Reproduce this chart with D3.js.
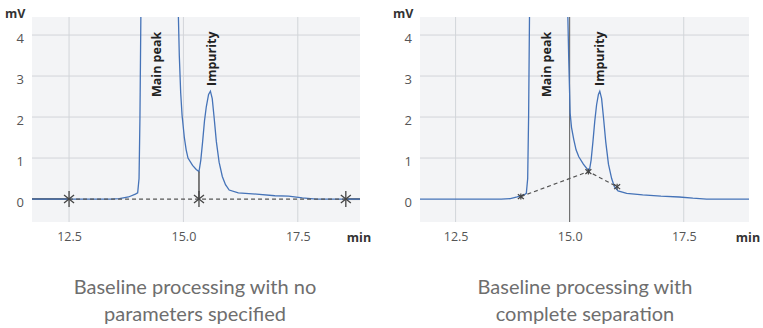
<!DOCTYPE html>
<html><head><meta charset="utf-8">
<script src="https://cdn.jsdelivr.net/npm/d3@7"></script>
<style>body{margin:0;background:#fff}svg{display:block}</style>
</head><body>
<script>
// ---- data ----
const xTicks = [12.5, 15.0, 17.5];
const yTicks = [0, 1, 2, 3, 4];
const peakLabels = ["Main peak", "Impurity"];
const leftLabelTimes = [14.49, 15.7];
const rightLabelTimes = [14.57, 15.74];
const captions = [["Baseline processing with no", "parameters specified"], ["Baseline processing with", "complete separation"]];

const leftTime   = [11.69, 13.0, 13.4, 13.6, 13.8, 13.95, 14.0, 14.03, 14.05, 14.07, 14.1, 14.4, 14.8, 14.89, 14.91, 14.94, 14.97, 15.02, 15.06, 15.1, 15.2, 15.28, 15.34, 15.38, 15.42, 15.46, 15.5, 15.55, 15.59, 15.63, 15.67, 15.72, 15.78, 15.85, 15.92, 16.0, 16.2, 16.6, 17.0, 17.3, 17.6, 17.9, 18.88];
const leftSignal = [0, 0, 0.0, 0.01, 0.05, 0.12, 0.15, 0.5, 2.0, 4.5, 9, 40, 9, 4.45, 3.5, 2.6, 2.05, 1.5, 1.2, 1.0, 0.82, 0.72, 0.67, 0.95, 1.4, 1.9, 2.25, 2.55, 2.63, 2.45, 2.0, 1.4, 0.9, 0.55, 0.35, 0.22, 0.15, 0.12, 0.08, 0.07, 0.03, 0.0, 0];
const leftMarks = [12.5, 15.34, 18.55];
const leftDrop = [15.34, 0.67];

const rightTime   = [11.69, 13.0, 13.5, 13.7, 13.85, 14.0, 14.05, 14.08, 14.1, 14.12, 14.15, 14.45, 14.85, 14.96, 14.98, 15.01, 15.04, 15.09, 15.14, 15.2, 15.3, 15.38, 15.43, 15.47, 15.51, 15.55, 15.59, 15.63, 15.66, 15.7, 15.74, 15.79, 15.85, 15.92, 15.98, 16.06, 16.25, 16.6, 17.0, 17.4, 17.7, 18.0, 18.93];
const rightSignal = [0, 0, 0, 0.01, 0.05, 0.1, 0.14, 0.5, 2.0, 4.5, 9, 40, 9, 4.45, 3.4, 2.1, 1.75, 1.45, 1.2, 1.03, 0.85, 0.74, 0.68, 0.95, 1.4, 1.9, 2.3, 2.55, 2.63, 2.45, 2.0, 1.4, 0.85, 0.5, 0.3, 0.2, 0.14, 0.1, 0.07, 0.05, 0.02, 0.0, 0];
const rightBaseT = [13.93, 15.41, 16.04];
const rightBaseV = [0.06, 0.67, 0.3];

// ---- layout ----
const W = 763, H = 328;
const svg = d3.select("body").append("svg").attr("width", W).attr("height", H)
  .style("font-family", "'Open Sans', sans-serif");

const panels = [
  {x0: 32, x1: 360, dom: [11.69, 18.86], time: leftTime, sig: leftSignal, lab: leftLabelTimes, cx: 195},
  {x0: 420, x1: 749, dom: [11.72, 18.93], time: rightTime, sig: rightSignal, lab: rightLabelTimes, cx: 585}
];
const plotTop = 17, plotBottom = 222;
const blue = "#4573b8";

panels.forEach((p, i) => {
  const x = d3.scaleLinear().domain(p.dom).range([p.x0, p.x1]);
  const y = d3.scaleLinear().domain([-0.56, 4.44]).range([plotBottom, plotTop]);
  const g = svg.append("g");
  const clipId = "clip" + i;
  svg.append("clipPath").attr("id", clipId).append("rect")
    .attr("x", p.x0).attr("y", plotTop).attr("width", p.x1 - p.x0).attr("height", plotBottom - plotTop);

  g.append("rect").attr("x", p.x0).attr("y", plotTop).attr("width", p.x1 - p.x0).attr("height", plotBottom - plotTop)
    .attr("fill", "#f3f4f6");

  g.selectAll(".hg").data(yTicks.filter(d => d > 0)).join("line")
    .attr("x1", p.x0).attr("x2", p.x1).attr("y1", d => y(d)).attr("y2", d => y(d))
    .attr("stroke", "#d2d5d9").attr("stroke-width", 1);
  g.selectAll(".vg").data(xTicks).join("line")
    .attr("x1", d => x(d)).attr("x2", d => x(d)).attr("y1", plotTop).attr("y2", plotBottom)
    .attr("stroke", d => (i === 1 && d === 15.0) ? "#5a5a5a" : "#d2d5d9").attr("stroke-width", 1);

  const xa = d3.axisBottom(x).tickValues(xTicks).tickFormat(d3.format(".1f")).tickSize(0).tickPadding(0);
  const gx = g.append("g").attr("transform", `translate(0,${plotBottom + 10})`).call(xa);
  gx.select(".domain").remove();
  gx.selectAll("text").attr("fill", "#555").attr("font-size", 12.5).attr("font-family", "'Open Sans', sans-serif");
  const ya = d3.axisLeft(y).tickValues(yTicks).tickFormat(d3.format("d")).tickSize(0).tickPadding(0);
  const gy = g.append("g").attr("transform", `translate(${p.x0 - 8},3)`).call(ya);
  gy.select(".domain").remove();
  gy.selectAll("text").attr("fill", "#555").attr("font-size", 13).attr("font-family", "'Open Sans', sans-serif");

  g.append("text").attr("x", p.x0 - 27).attr("y", 18).text("mV")
    .attr("font-weight", "bold").attr("font-size", 12.5).attr("fill", "#333");
  g.append("text").attr("x", p.x1 - 1).attr("y", 242).attr("text-anchor", "middle").text("min")
    .attr("font-weight", "bold").attr("font-size", 12.5).attr("fill", "#333");

  const pg = g.append("g").attr("clip-path", `url(#${clipId})`);

  if (i === 0) {
    pg.append("line").attr("x1", p.x0).attr("x2", x(leftMarks[0])).attr("y1", y(0)).attr("y2", y(0))
      .attr("stroke", "#666").attr("stroke-width", 2);
    pg.append("line").attr("x1", x(leftMarks[2])).attr("x2", p.x1).attr("y1", y(0)).attr("y2", y(0))
      .attr("stroke", "#666").attr("stroke-width", 2);
  }

  const line = d3.line().x((d, k) => x(p.time[k])).y(d => y(d));
  pg.append("path").datum(p.sig).attr("d", line).attr("fill", "none")
    .attr("stroke", blue).attr("stroke-width", 1.3);

  const star = (gg, cx, cy, rv, rd) => {
    gg.append("line").attr("x1", cx).attr("x2", cx).attr("y1", cy - rv).attr("y2", cy + rv);
    gg.append("line").attr("x1", cx - rd).attr("x2", cx + rd).attr("y1", cy - rd * 0.8).attr("y2", cy + rd * 0.8);
    gg.append("line").attr("x1", cx - rd).attr("x2", cx + rd).attr("y1", cy + rd * 0.8).attr("y2", cy - rd * 0.8);
  };

  if (i === 0) {
    pg.append("line").attr("x1", x(leftMarks[0])).attr("x2", x(leftMarks[2])).attr("y1", y(0)).attr("y2", y(0))
      .attr("stroke", "#555").attr("stroke-width", 1.2).attr("stroke-dasharray", "4,3");
    pg.append("line").attr("x1", x(leftDrop[0])).attr("x2", x(leftDrop[0])).attr("y1", y(0)).attr("y2", y(leftDrop[1]))
      .attr("stroke", "#555").attr("stroke-width", 1.5);
    const sg = pg.append("g").attr("stroke", "#444").attr("stroke-width", 1.3);
    leftMarks.forEach(t => star(sg, x(t), y(0), 8, 5));
  } else {
    const bl = d3.line().x((d, k) => x(rightBaseT[k])).y(d => y(d));
    pg.append("path").datum(rightBaseV).attr("d", bl).attr("fill", "none")
      .attr("stroke", "#555").attr("stroke-width", 1.2).attr("stroke-dasharray", "4,3");
    const sg = pg.append("g").attr("stroke", "#444").attr("stroke-width", 1.2);
    rightBaseT.forEach((t, k) => star(sg, x(t), y(rightBaseV[k]), 3, 3));
  }

  peakLabels.forEach((lab, k) => {
    const tx = x(p.lab[k]) + 0.5, ty = k === 0 ? 97 : 86;
    g.append("text").attr("transform", `translate(${tx},${ty}) rotate(-90)`).text(lab)
      .attr("font-weight", "bold").attr("font-size", 12.5).attr("fill", "#222");
  });

  captions[i].forEach((c, k) => {
    svg.append("text").attr("x", p.cx).attr("y", 294 + k * 27).attr("text-anchor", "middle").text(c)
      .attr("font-family", "Lato, sans-serif").attr("font-size", 20).attr("fill", "#6e6e6e");
  });
});
</script>
</body></html>
